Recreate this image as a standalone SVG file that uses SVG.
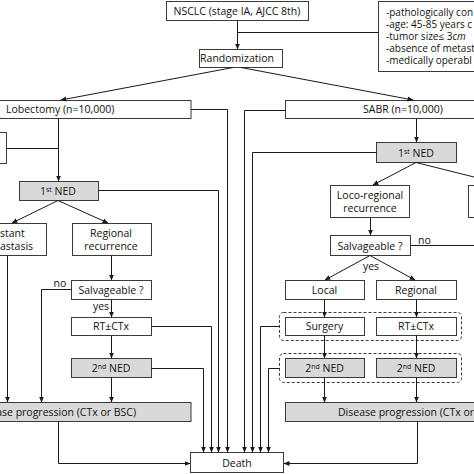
<svg xmlns="http://www.w3.org/2000/svg" width="474" height="474" viewBox="0 0 474 474">
<defs>
<marker id="ah" markerWidth="6" markerHeight="6" refX="5.5" refY="3" orient="auto" markerUnits="userSpaceOnUse">
<path d="M0,0.5 L6,3 L0,5.5 Z" fill="#1a1a1a"/>
</marker>
<style>
.b{fill:#fff;stroke:#3a3a3a;stroke-width:1}
.g{fill:#d9d9d9;stroke:#3a3a3a;stroke-width:1}
.d{fill:none;stroke:#3a3a3a;stroke-width:1;stroke-dasharray:3 2}
.c{fill:none;stroke:#1a1a1a;stroke-width:1}
.a{marker-end:url(#ah)}
text{font-family:"Open Sans","Noto Sans","DejaVu Sans",sans-serif;font-size:10.5px;fill:#111}
.m{text-anchor:middle}
.s{font-size:7px}
.k{font-size:10px}
</style>
</defs>
<rect width="474" height="474" fill="#fff"/>

<g id="nsclc"><rect class="b" x="166.5" y="1.5" width="142" height="19"/><text class="m" x="237" y="15">NSCLC (stage IA, AJCC 8th)</text></g>
<g id="criteria"><rect class="b" x="378.5" y="1.5" width="110" height="70"/>
<text class="k" x="386" y="15.5">-pathologically con</text>
<text class="k" x="386" y="27.5">-age: 45-85 years c</text>
<text class="k" x="386" y="39.5">-tumor size≤ 3<tspan font-style="italic">cm</tspan></text>
<text class="k" x="386" y="51.5">-absence of metast</text>
<text class="k" x="386" y="63.5">-medically operabl</text></g>
<g id="randomization"><rect class="b" x="199.5" y="49.5" width="83" height="18"/><text class="m" x="237" y="62">Randomization</text></g>
<g id="lobectomy"><rect class="b" x="-5" y="100.5" width="196" height="18"/><text x="6" y="113">Lobectomy (n=10,000)</text></g>
<g id="sabr"><rect class="b" x="285.5" y="100.5" width="200" height="18"/><text class="m" x="403" y="113">SABR (n=10,000)</text></g>
<g id="leftbox"><rect class="b" x="-10" y="132.5" width="16.5" height="31"/></g>
<g id="ned1L"><rect class="g" x="19.5" y="181.5" width="79" height="19"/><text class="m" x="58" y="195">1<tspan class="s" dy="-3">st</tspan><tspan dy="3"> NED</tspan></text></g>
<g id="distantL"><rect class="b" x="-20" y="223.5" width="66.5" height="32"/><text x="0" y="237">stant</text><text x="0" y="250">astasis</text></g>
<g id="regrecL"><rect class="b" x="72.5" y="223.5" width="79" height="32"/><text class="m" x="111" y="237">Regional</text><text class="m" x="111" y="250">recurrence</text></g>
<g id="salvL"><rect class="b" x="71.5" y="280.5" width="80" height="19"/><text class="m" x="111" y="294">Salvageable ?</text></g>
<g id="rtL"><rect class="b" x="71.5" y="317.5" width="80" height="18"/><text class="m" x="111" y="330">RT±CTx</text></g>
<g id="ned2L"><rect class="g" x="71.5" y="358.5" width="80" height="19"/><text class="m" x="111" y="372">2<tspan class="s" dy="-3">nd</tspan><tspan dy="3"> NED</tspan></text></g>
<g id="dpL"><rect class="g" x="-10" y="402.5" width="201" height="19"/><text x="136" y="416" text-anchor="end">ase progression (CTx or BSC)</text></g>
<g id="death"><rect class="b" x="190.5" y="452.5" width="93" height="20"/><text class="m" x="237" y="466.5">Death</text></g>

<g id="ned1R"><rect class="g" x="376.5" y="142.5" width="80" height="20"/><text class="m" x="416" y="156.5">1<tspan class="s" dy="-3">st</tspan><tspan dy="3"> NED</tspan></text></g>
<g id="locoreg"><rect class="b" x="330.5" y="185.5" width="79" height="32"/><text class="m" x="370" y="198.5">Loco-regional</text><text class="m" x="370" y="211.5">recurrence</text></g>
<g id="distantR"><rect class="b" x="468.5" y="185.5" width="20" height="32"/></g>
<g id="salvR"><rect class="b" x="330.5" y="235.5" width="80" height="20"/><text class="m" x="370" y="249.5">Salvageable ?</text></g>
<g id="local"><rect class="b" x="285.5" y="280.5" width="79" height="19"/><text class="m" x="324.5" y="294">Local</text></g>
<g id="regR"><rect class="b" x="376.5" y="280.5" width="80" height="19"/><text class="m" x="416" y="294">Regional</text></g>
<g id="grp1"><rect class="d" x="279.5" y="312.5" width="182" height="28" rx="4"/></g>
<g id="surgery"><rect class="b" x="285.5" y="317.5" width="79" height="18"/><text class="m" x="324.5" y="330">Surgery</text></g>
<g id="rtR"><rect class="b" x="376.5" y="317.5" width="80" height="18"/><text class="m" x="416" y="330">RT±CTx</text></g>
<g id="grp2"><rect class="d" x="279.5" y="353.5" width="182" height="29" rx="4"/></g>
<g id="ned2R1"><rect class="g" x="285.5" y="358.5" width="79" height="19"/><text class="m" x="324.5" y="372">2<tspan class="s" dy="-3">nd</tspan><tspan dy="3"> NED</tspan></text></g>
<g id="ned2R2"><rect class="g" x="376.5" y="358.5" width="80" height="19"/><text class="m" x="416" y="372">2<tspan class="s" dy="-3">nd</tspan><tspan dy="3"> NED</tspan></text></g>
<g id="dpR"><rect class="g" x="285.5" y="402.5" width="200" height="19"/><text x="338" y="416">Disease progression (CTx or B</text></g>

<g id="labels">
<text class="m" x="60" y="286.5">no</text>
<text class="m" x="101" y="309.5">yes</text>
<text class="m" x="424.5" y="243.5">no</text>
<text class="m" x="371" y="269.5">yes</text>
</g>

<g id="connectors">
<path class="c a" d="M237.5,20.5 V49"/>
<path class="c" d="M378.5,32.5 H237.5"/>
<path class="c a" d="M233,67.5 L61,100"/>
<path class="c a" d="M241,67.5 L413,100"/>
<path class="c a" d="M191,109.5 H227.5 V452"/>
<path class="c a" d="M285.5,110.5 H244.5 V452"/>
<path class="c" d="M6.5,148.5 H58.5"/>
<path class="c a" d="M58.5,118.5 V181"/>
<path class="c a" d="M98.5,190.5 H218.5 V452"/>
<path class="c a" d="M58,200.5 L12,223"/>
<path class="c a" d="M58,200.5 L108,223"/>
<path class="c a" d="M7.5,255.5 V402"/>
<path class="c a" d="M111.5,255.5 V280"/>
<path class="c a" d="M71.5,289.5 H41.5 V402"/>
<path class="c a" d="M111.5,299.5 V317"/>
<path class="c a" d="M151.5,326.5 H211.5 V452"/>
<path class="c a" d="M111.5,335.5 V358"/>
<path class="c a" d="M151.5,368.5 H203.5 V452"/>
<path class="c a" d="M111.5,377.5 V402"/>
<path class="c a" d="M58.5,421.5 V463.5 H190"/>

<path class="c a" d="M416.5,118.5 V142"/>
<path class="c a" d="M376.5,152.5 H252.5 V452"/>
<path class="c a" d="M416,162.5 L373,185"/>
<path class="c" d="M416,162.5 L510,186"/>
<path class="c a" d="M370.5,217.5 V235"/>
<path class="c" d="M410.5,245.5 H480"/>
<path class="c a" d="M370,255.5 L325,280"/>
<path class="c a" d="M370,255.5 L415,280"/>
<path class="c a" d="M324.5,299.5 V317"/>
<path class="c a" d="M416.5,299.5 V317"/>
<path class="c a" d="M279.5,326.5 H260.5 V452"/>
<path class="c a" d="M324.5,335.5 V358"/>
<path class="c a" d="M416.5,335.5 V358"/>
<path class="c a" d="M279.5,368.5 H268.5 V452"/>
<path class="c a" d="M324.5,377.5 V402"/>
<path class="c a" d="M416.5,377.5 V402"/>
<path class="c a" d="M417.5,421.5 V463.5 H284"/>
</g>
</svg>
